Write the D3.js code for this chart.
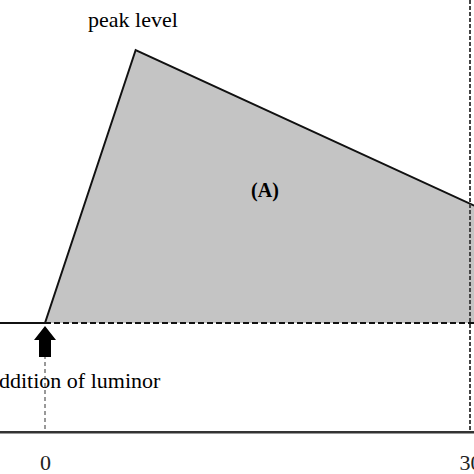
<!DOCTYPE html>
<meta charset="utf-8">
<script src="https://d3js.org/d3.v7.min.js"></script>
<style>body{margin:0;background:#fff}</style>
<div id="chart"></div>
<script>
// time (min) vs relative light level
var times = [0, 6.4, 30.3, 30.3];
var levels = [0, 100, 43, 0];
var tickVals = [0, 30];
var tickLabels = ["0", "30"];

var width = 474, height = 474;
var x = d3.scaleLinear().domain([0, 30]).range([45, 470]);
var y = d3.scaleLinear().domain([0, 100]).range([323, 50]);
var yAxisLevel = -40;

var svg = d3.select("#chart").append("svg")
    .attr("width", width).attr("height", height)
    .style("font-family", "Liberation Serif, DejaVu Serif, serif");

var pts = times.map(function(t, i) { return [x(t), y(levels[i])]; });

// shaded area
svg.append("path")
    .attr("d", d3.line()(pts) + "Z")
    .attr("fill", "#c4c4c4");

// rising + falling edge
svg.append("path")
    .attr("d", d3.line()(pts.slice(0, 3)))
    .attr("fill", "none").attr("stroke", "#111").attr("stroke-width", 2);

// background level
svg.append("line")
    .attr("x1", 0).attr("x2", x(0)).attr("y1", y(0)).attr("y2", y(0))
    .attr("stroke", "#111").attr("stroke-width", 2);
svg.append("line")
    .attr("x1", x(0)).attr("x2", width).attr("y1", y(0)).attr("y2", y(0))
    .attr("stroke", "#111").attr("stroke-width", 2).attr("stroke-dasharray", "6,3");

// verticals
svg.append("line")
    .attr("x1", x(0)).attr("x2", x(0)).attr("y1", 355).attr("y2", y(yAxisLevel))
    .attr("stroke", "#999").attr("stroke-width", 2).attr("stroke-dasharray", "4,3");
svg.append("line")
    .attr("x1", x(30)).attr("x2", x(30)).attr("y1", 0).attr("y2", y(yAxisLevel))
    .attr("stroke", "#444").attr("stroke-width", 2).attr("stroke-dasharray", "4,2");

// time axis
var axis = svg.append("g")
    .attr("transform", "translate(0," + y(yAxisLevel) + ")")
    .call(d3.axisBottom(x).tickValues(tickVals).tickFormat(function(d, i) { return tickLabels[i]; }).tickSize(0).tickPadding(22));
axis.select(".domain").remove();
axis.selectAll("text").attr("font-size", 22).attr("font-family", "Liberation Serif, serif").attr("fill", "#222");
svg.append("line")
    .attr("x1", 0).attr("x2", width).attr("y1", y(yAxisLevel)).attr("y2", y(yAxisLevel))
    .attr("stroke", "#333").attr("stroke-width", 2.5);

// arrow
var ax = x(0);
svg.append("path")
    .attr("d", "M" + ax + ",326 L" + (ax + 11) + ",340 L" + (ax + 6) + ",340 L" + (ax + 6) + ",357 L" + (ax - 6) + ",357 L" + (ax - 6) + ",340 L" + (ax - 11) + ",340 Z")
    .attr("fill", "#000");

// labels
svg.append("text").attr("x", 133).attr("y", 27).attr("text-anchor", "middle")
    .attr("font-size", 22).text("peak level");
svg.append("text").attr("x", 265).attr("y", 197).attr("text-anchor", "middle")
    .attr("font-size", 20).attr("font-weight", "bold").text("(A)");
svg.append("text").attr("x", -1).attr("y", 388)
    .attr("font-size", 22).text("ddition of luminor");
</script>
